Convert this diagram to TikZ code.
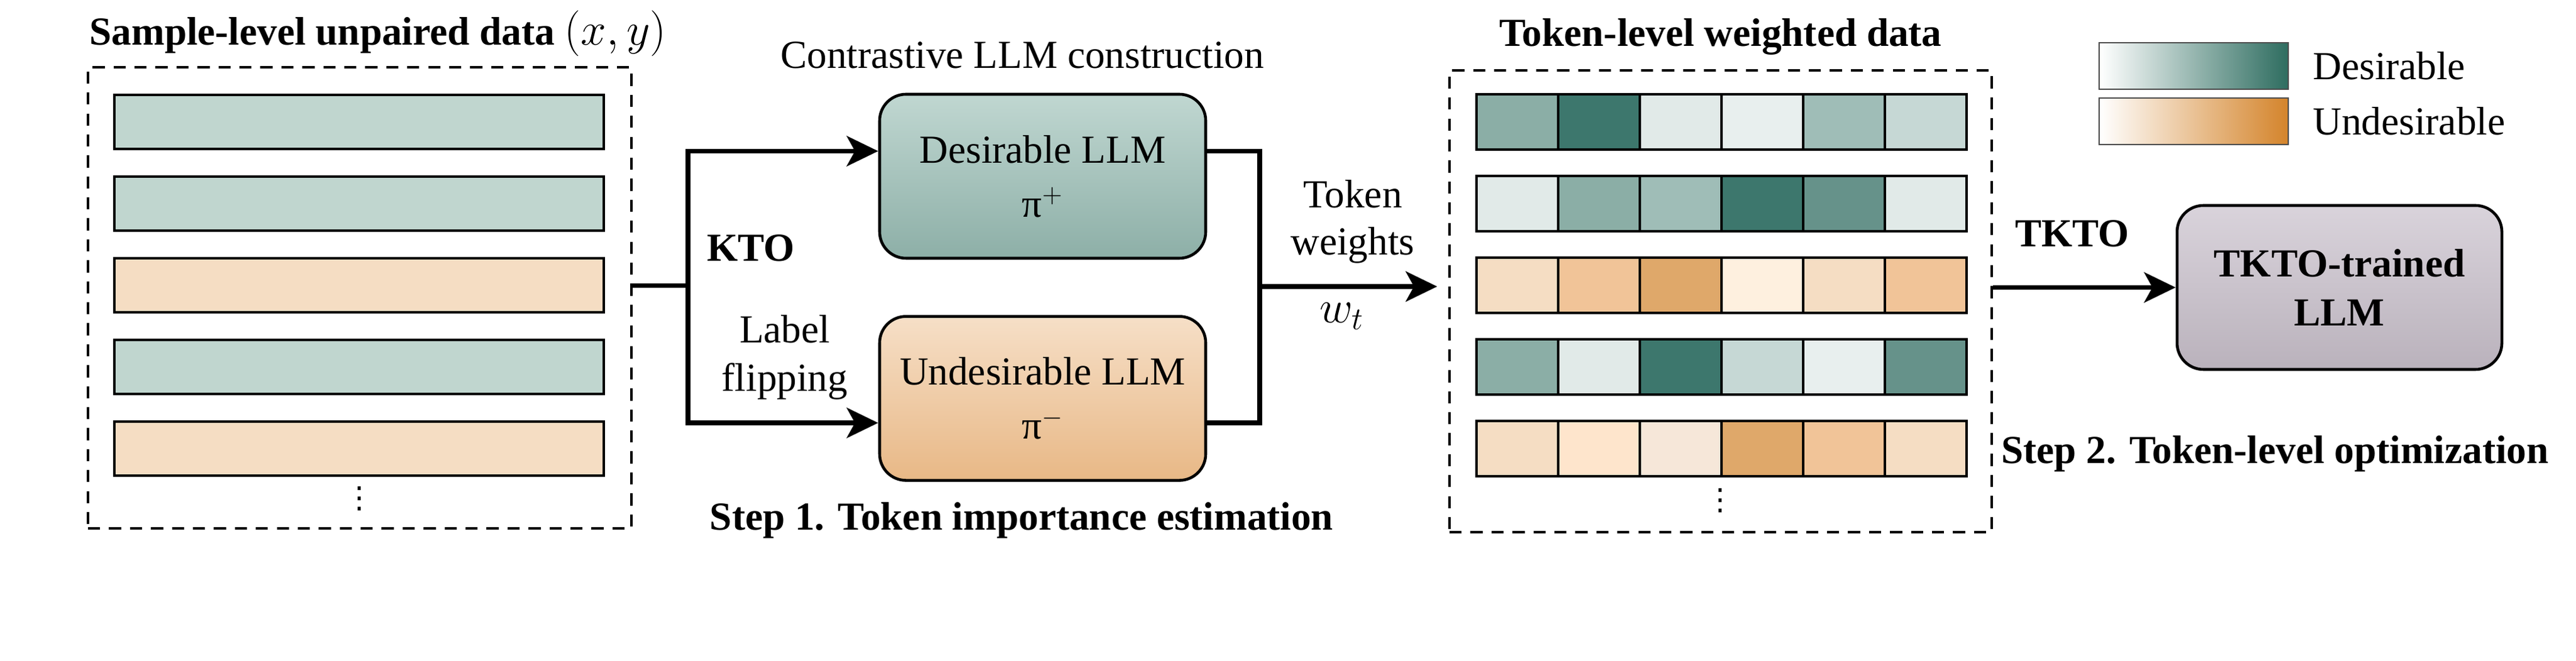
\documentclass[tikz,border=0pt]{standalone}
\usepackage{fontspec}
\setmainfont{Liberation Serif}
\newfontfamily\symfont{DejaVu Sans}
\usetikzlibrary{positioning,arrows.meta}
\newcommand{\figfont}{\fontsize{18}{22}\selectfont}
\newcommand{\mathfont}{\fontsize{21}{22}\selectfont}
\newcommand{\moredots}{{\symfont\fontsize{13.5}{14}\selectfont ⋮}}
\definecolor{barG}{HTML}{C0D6CF}
\definecolor{barO}{HTML}{F5DDC3}
\definecolor{gA}{HTML}{E8EFEE}
\definecolor{gB}{HTML}{E1EAE8}
\definecolor{gC}{HTML}{C6D8D5}
\definecolor{gD}{HTML}{9FBDB7}
\definecolor{gE}{HTML}{8BAEA6}
\definecolor{gF}{HTML}{66928A}
\definecolor{gG}{HTML}{3D776D}
\definecolor{oA}{HTML}{FEF0DF}
\definecolor{oB}{HTML}{FEE5CC}
\definecolor{oC}{HTML}{F6E7D9}
\definecolor{oD}{HTML}{F5DDC3}
\definecolor{oE}{HTML}{F1C498}
\definecolor{oF}{HTML}{DFA86A}
\definecolor{desTop}{HTML}{C0D7D1}
\definecolor{desBot}{HTML}{8DAFA7}
\definecolor{undTop}{HTML}{F6DFC7}
\definecolor{undBot}{HTML}{E8B886}
\definecolor{tkTop}{HTML}{D9D3DB}
\definecolor{tkBot}{HTML}{BAB2BC}
\definecolor{legG}{HTML}{2E6D60}
\definecolor{legO}{HTML}{D4842B}
\begin{document}
\begin{tikzpicture}[font=\figfont,
    bar/.style={draw,line width=0.9pt,minimum width=7.79cm,minimum height=0.86cm,inner sep=0pt},
    cell/.style={draw,line width=1.3pt,minimum width=1.3cm,minimum height=0.88cm,inner sep=0pt},
    frame/.style={draw,line width=0.9pt,dash pattern=on 5.5pt off 4pt,inner sep=0pt},
    llm/.style={draw,line width=1.3pt,rounded corners=0.42cm,minimum width=5.19cm,minimum height=2.61cm,
      inner sep=0pt,align=center,font=\fontsize{18}{24.4}\selectfont},
    bold/.style={font=\figfont\bfseries},
    flow/.style={line width=2.2pt},
    arr/.style={flow,-{Stealth[length=0.5cm,width=0.48cm,inset=0.13cm]}},
    legbox/.style={draw=black!70,line width=0.5pt,minimum width=3.01cm,minimum height=0.74cm,inner sep=0pt}]
  \useasboundingbox (0,0) rectangle (41,-10.52);

  \path (5.725,-4.74) node[frame,minimum width=8.65cm,minimum height=7.34cm] (samples) {};
  \foreach \c [count=\i] in {barG,barG,barO,barG,barO}
    \path (5.715,-0.64-1.3*\i) node[bar,fill=\c] (s\i) {};
  \path ([yshift=0.49cm]samples.south) node[inner sep=0pt] (sdots) {\moredots};
  \path (6.015,-0.72) node[anchor=base,bold] (stitle) {Sample-level unpaired data {\mathfont$(x,y)$}};

  \path (27.385,-4.795) node[frame,minimum width=8.63cm,minimum height=7.35cm] (tokens) {};
  \foreach \row [count=\i] in {{gE,gG,gB,gA,gD,gC},{gB,gE,gD,gG,gF,gB},{oD,oE,oF,oA,oD,oE},
      {gE,gB,gG,gC,gA,gF},{oD,oB,oC,oF,oE,oD}} {
    \foreach \c [count=\j] in \row
      \path (22.85+1.3*\j,-0.64-1.3*\i) node[cell,fill=\c] (t\i-\j) {};
  }
  \path ([yshift=0.52cm]tokens.south) node[inner sep=0pt] (tdots) {\moredots};
  \path ([yshift=0.37cm]tokens.north) node[anchor=base,bold] (ttitle) {Token-level weighted data};

  \path (16.595,-2.805) node[llm,top color=desTop,bottom color=desBot] (des) {Desirable LLM\\$\mbox{π}^+$};
  \path node[llm,top color=undTop,bottom color=undBot,below=0.88cm of des] (und) {Undesirable LLM\\$\mbox{π}^-$};
  \path (16.27,-1.09) node[anchor=base] (contrast) {Contrastive LLM construction};

  \coordinate (split) at (10.95,-4.545);
  \draw[flow] (samples.east |- split) -- (split);
  \draw[arr] (split) |- ([yshift=0.4cm]des.west);
  \draw[arr] (split) |- ([yshift=-0.39cm]und.west);
  \path (11.95,-4.16) node[anchor=base,bold] (kto) {KTO};
  \path (12.49,-5.69) node[align=center,font=\fontsize{18}{22.1}\selectfont] (flip) {Label\\flipping};

  \coordinate (merge) at (20.05,-4.56);
  \draw[flow] ([yshift=0.4cm]des.east) -| (merge) |- ([yshift=-0.39cm]und.east);
  \draw[arr,shorten >=0.18cm] (merge) -- (merge -| tokens.west);
  \path (21.53,-3.525) node[align=center,font=\fontsize{18}{21.3}\selectfont] (tw) {Token\\weights};
  \path (21.36,-5.14) node[anchor=base,font=\mathfont] (wt) {$w_t$};
  \path (16.26,-8.44) node[anchor=base,bold] (step1) {Step 1. Token importance estimation};

  \path (34.915,-1.05) node[legbox,left color=white,right color=legG] (legD) {};
  \path node[legbox,left color=white,right color=legO,below=0.12cm of legD] (legU) {};
  \path node[right=0.38cm of legD,inner sep=0pt] (legDt) {Desirable};
  \path node[right=0.38cm of legU,inner sep=0pt] (legUt) {Undesirable};

  \path (37.235,-4.575) node[llm,minimum width=5.17cm,top color=tkTop,bottom color=tkBot,
    font=\fontsize{18}{22.1}\selectfont\bfseries] (tkto) {TKTO-trained\\LLM};
  \draw[arr] (tokens.east |- tkto.west) -- (tkto.west);
  \path (32.98,-3.93) node[anchor=base,bold] (tktolbl) {TKTO};
  \path (36.21,-7.38) node[anchor=base,bold] (step2) {Step 2. Token-level optimization};
\end{tikzpicture}
\end{document}
